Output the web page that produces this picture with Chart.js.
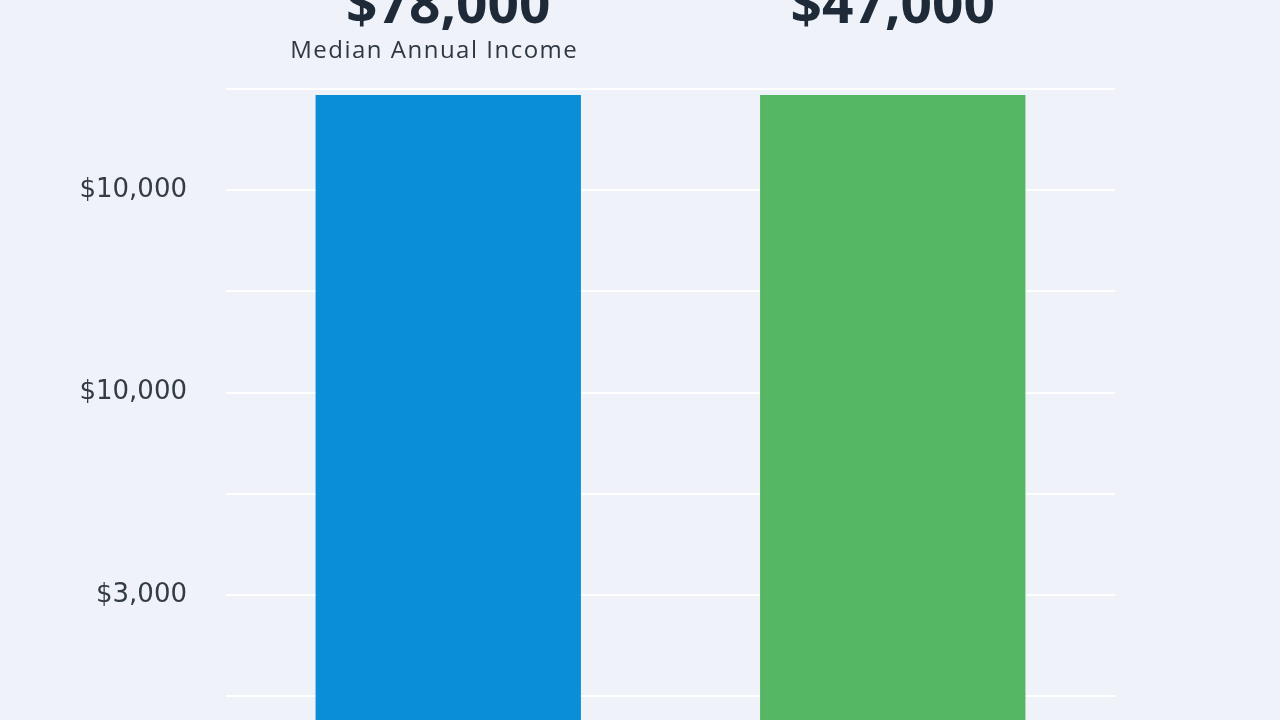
<!DOCTYPE html>
<html>
<head>
<meta charset="utf-8">
<title>Median Annual Income</title>
<script src="https://cdn.jsdelivr.net/npm/chart.js@4"></script>
<style>
  html, body { margin: 0; padding: 0; background: #eff3f9; overflow: hidden; }
  #incomeChart { position: absolute; left: 0; top: 0; }
</style>
</head>
<body>
<canvas id="incomeChart" width="1280" height="852"></canvas>
<script>
/* --------------- Data --------------------- */
const categories = ["Group A", "Group B"];
const incomeValues = [78000, 47000];
const valueLabels = ["$78,000", "$47,000"];
const subLabels = ["Median Annual Income", ""];
const barColors = ["#0a8fd6", "#55b663"];
/* --------------- Y axis ticks (as printed on the picture) --------------------- */
const tickValues = [12000, 8000, 4000];
const tickLabels = ["$10,000", "$10,000", "$3,000"];

/* --------------- Labels above the bars --------------------- */
const topLabels = {
  id: "topLabels",
  afterDraw(chart) {
    const ctx = chart.ctx;
    const top = chart.chartArea.top;
    chart.getDatasetMeta(0).data.forEach((bar, i) => {
      ctx.save();
      ctx.textAlign = "center";
      ctx.textBaseline = "alphabetic";
      ctx.fillStyle = "#1e2a38";
      ctx.font = "bold 55px 'Open Sans'";
      ctx.fillText(valueLabels[i], bar.x, top - 66);
      if (subLabels[i]) {
        ctx.fillStyle = "#2f3742";
        ctx.font = "24px 'Open Sans'";
        ctx.letterSpacing = "1.5px";
        ctx.fillText(subLabels[i], bar.x - 14, top - 31);
      }
      ctx.restore();
    });
  },
};

new Chart(document.getElementById("incomeChart"), {
  type: "bar",
  plugins: [topLabels],
  data: {
    labels: categories,
    datasets: [
      {
        data: incomeValues,
        backgroundColor: barColors,
        borderWidth: 0,
        barPercentage: 0.597,
        categoryPercentage: 1,
        clip: { left: false, top: -6, right: false, bottom: 0 },
      },
    ],
  },
  options: {
    responsive: false,
    animation: false,
    devicePixelRatio: 1,
    layout: { padding: { top: 89, right: 165, bottom: 4, left: 0 } },
    plugins: {
      legend: { display: false },
      tooltip: { enabled: false },
    },
    scales: {
      x: { display: false },
      y: {
        min: 0,
        max: 14000,
        afterFit: (axis) => { axis.width = 226; },
        border: { display: false },
        grid: { color: "#ffffff", lineWidth: 2, drawTicks: false },
        ticks: {
          stepSize: 2000,
          padding: 39,
          color: "#333b45",
          font: { family: "'DejaVu Sans'", size: 26 },
          callback: (value) => {
            const k = tickValues.indexOf(value);
            return k >= 0 ? tickLabels[k] : "";
          },
        },
      },
    },
  },
});
</script>
</body>
</html>
